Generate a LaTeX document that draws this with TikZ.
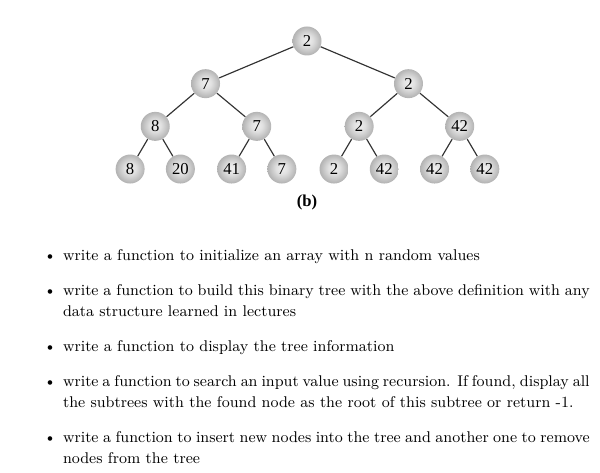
\documentclass[tikz,border=0pt]{standalone}
\usepackage{fontspec}
\newfontfamily\treefont{Liberation Serif}
\usetikzlibrary{positioning}
\pgfdeclareradialshading{keyball}{\pgfpoint{0bp}{1.5bp}}{color(0bp)=(gray!12); color(10bp)=(gray!24); color(25bp)=(gray!60); color(50bp)=(gray!60)}
\tikzset{
  key/.style={circle, minimum size=17.4pt, inner sep=0pt, font=\treefont, shading=keyball},
  link/.style={draw=black!80, line width=0.7pt},
  task/.style={anchor=base west, text width=316pt, align=justify, inner sep=0pt, font=\fontsize{9.33}{12.2}\selectfont},
}

\begin{document}
\begin{tikzpicture}[x=0.6pt, y=-0.6pt, node distance=9mm and 21.4mm, on grid]
\useasboundingbox (0,0) rectangle (600,473);
\node[key] (r) at (307,41) {2};
\node[key, below left=of r] (a) {7};
\node[key, below right=of r] (b) {2};

\node[key, below left=9mm and 10.6mm of a] (aa) {8};
\node[key, below right=9mm and 10.8mm of a] (ab) {7};
\node[key, below left=9mm and 10.4mm of b] (ba) {2};
\node[key, below right=9mm and 10.8mm of b] (bb) {42};

\node[key, below left=9mm and 5.3mm of aa] (aaa) {8};
\node[key, below right=9mm and 5.3mm of aa] (aab) {20};
\node[key, below left=9mm and 5.3mm of ab] (aba) {41};
\node[key, below right=9mm and 5.3mm of ab] (abb) {7};
\node[key, below left=9mm and 5.3mm of ba] (baa) {2};
\node[key, below right=9mm and 5.3mm of ba] (bab) {42};
\node[key, below left=9mm and 5.3mm of bb] (bba) {42};
\node[key, below right=9mm and 5.3mm of bb] (bbb) {42};

\foreach \p/\c in {r/a, r/b, a/aa, a/ab, b/ba, b/bb, aa/aaa, aa/aab, ab/aba, ab/abb, ba/baa, ba/bab, bb/bba, bb/bbb}
  \draw[link] (\p) -- (\c);

\node[font=\treefont\bfseries] (cap) at (307,202) {(b)};

% exercise list
\node[task] (t1) at (62.7,260.7) {\noindent\llap{\textbullet\hspace{4pt}}write a function to initialize an array with n random values};
\node[task] (t2) at (62.7,296) {\noindent\llap{\textbullet\hspace{4pt}}write a function to build this binary tree with the above definition with any\linebreak data structure learned in lectures};
\node[task] (t3) at (62.7,351.7) {\noindent\llap{\textbullet\hspace{4pt}}write a function to display the tree information};
\node[task] (t4) at (62.7,386.7) {\noindent\llap{\textbullet\hspace{4pt}}write a function to search an input value using recursion. If found, display all\linebreak the subtrees with the found node as the root of this subtree or return -1.};
\node[task] (t5) at (62.7,442.7) {\noindent\llap{\textbullet\hspace{4pt}}write a function to insert new nodes into the tree and another one to remove\linebreak nodes from the tree};
\end{tikzpicture}
\end{document}
